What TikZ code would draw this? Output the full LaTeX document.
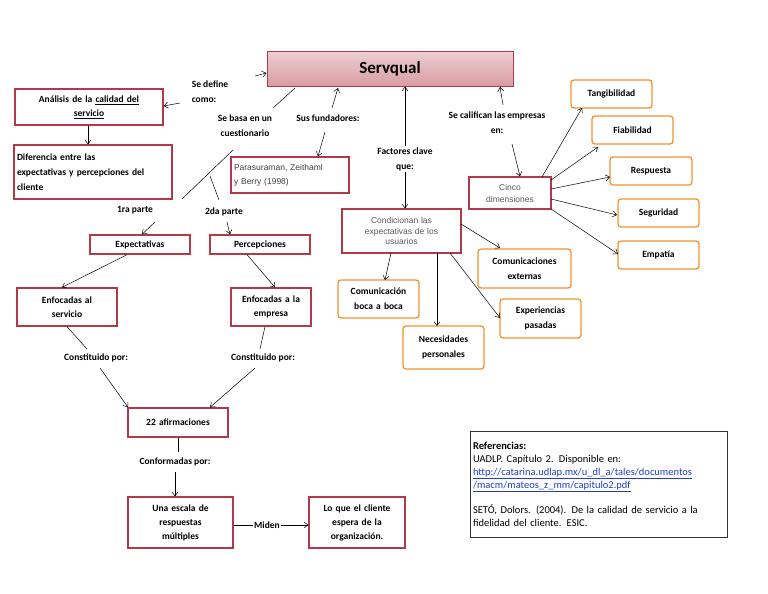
\documentclass[tikz,border=0pt]{standalone}
\usepackage{fontspec}
\setmainfont{Carlito}
\newfontfamily\arl{Liberation Sans}
\usetikzlibrary{arrows.meta}
\definecolor{rb}{HTML}{B23A48}
\definecolor{ob}{HTML}{F0922E}
\definecolor{lk}{HTML}{1F3FCC}
\begin{document}
\begin{tikzpicture}[x=1pt,y=-1pt,
 rbox/.style={draw=rb,line width=1.3pt,fill=white,align=center,font=\fontsize{9.5}{14}\selectfont\bfseries,inner sep=2pt},
 obox/.style={draw=ob,line width=1.3pt,rounded corners=3pt,fill=white,align=center,font=\fontsize{9.5}{15}\selectfont\bfseries,inner sep=2pt},
 lab/.style={align=center,font=\fontsize{9.5}{15}\selectfont\bfseries,inner sep=1pt},
 ar/.style={-{Straight Barb[length=4pt,width=6pt]},line width=0.5pt},
 ln/.style={line width=0.5pt}]
\useasboundingbox (0,0) rectangle (768,594);
\newcommand\bx[7]{\node[#1,minimum width=#4-#2,minimum height=#5-#3,text width=#4-#2-6] (#6) at ({(#2+#4)/2},{(#3+#5)/2}) {#7};}
% Servqual
\node[draw=rb,line width=1pt,top color=rb!25,bottom color=rb!50,minimum width=246,minimum height=34,font=\fontsize{17}{17}\selectfont\bfseries] (sq) at (390,69) {Servqual};
\bx{rbox}{15}{89}{163}{125}{an}{Análisis de la \underline{calidad del}\\\underline{servicio}}
\bx{rbox,align=left,font=\fontsize{9.5}{15}\selectfont\bfseries}{14}{145}{172}{199}{dif}{Diferencia entre las\\expectativas y percepciones del\\cliente}
\bx{rbox,align=left,font=\arl\fontsize{8.5}{14}\selectfont,text=black!75}{231}{157}{349}{193}{par}{Parasuraman, Zeithaml\\y Berry (1998)}
\bx{rbox,font=\arl\fontsize{8.5}{10.5}\selectfont,text=black!65}{342}{209}{461}{253}{con}{Condicionan las\\expectativas de los\\usuarios}
\bx{rbox,font=\arl\fontsize{8.5}{12}\selectfont,text=black!65}{469}{177}{551}{209}{cin}{Cinco\\dimensiones}
\bx{obox}{571}{80}{652}{108}{tan}{Tangibilidad}
\bx{obox}{592}{116}{673}{144}{fia}{Fiabilidad}
\bx{obox}{610}{157}{692}{185}{res}{Respuesta}
\bx{obox}{618}{199}{699}{227}{seg}{Seguridad}
\bx{obox}{618}{241}{699}{269}{emp}{Empatía}
\bx{obox}{478}{249}{571}{288}{cex}{Comunicaciones\\externas}
\bx{obox}{500}{299}{581}{338}{exp}{Experiencias\\pasadas}
\bx{obox}{403}{326}{484}{369}{nec}{Necesidades\\personales}
\bx{obox}{338}{280}{419}{318}{cbb}{Comunicación\\boca a boca}
\bx{rbox}{90}{235}{190}{254}{ex}{Expectativas}
\bx{rbox}{210}{235}{310}{254}{pe}{Percepciones}
\bx{rbox}{17}{288}{117}{326}{ens}{Enfocadas al\\servicio}
\bx{rbox}{231}{288}{311}{326}{ene}{Enfocadas a la\\empresa}
\bx{rbox}{128}{408}{228}{437}{af}{22 afirmaciones}
\bx{rbox}{128}{497}{233}{548}{esc}{Una escala de\\respuestas\\múltiples}
\bx{rbox}{309}{497}{405}{548}{lo}{Lo que el cliente\\espera de la\\organización.}
\node[draw=black!80,line width=1pt,minimum width=257,minimum height=106,text width=251,align=left,font=\fontsize{10.5}{13}\selectfont,inner sep=3pt] (ref) at (598.5,484) {\textbf{Referencias:}\\UADLP. Capítulo 2. Disponible en:\\\textcolor{lk}{\underline{http://catarina.udlap.mx/u\_dl\_a/tales/documentos}}\\\textcolor{lk}{\underline{/macm/mateos\_z\_mm/capitulo2.pdf}}\\[12pt]SETÓ, Dolors. (2004). De la calidad de servicio a la\\fidelidad del cliente. ESIC.};
% labels
\node[lab,align=left] (sd) at (210,92) {Se define\\como:};
\node[lab] (sb) at (245,126) {Se basa en un\\cuestionario};
\node[lab] (sf) at (328,118) {Sus fundadores:};
\node[lab] (fc) at (405,159) {Factores clave\\que:};
\node[lab] (sc) at (497,123) {Se califican las empresas\\en:};
\node[lab] (p1) at (135,210) {1ra parte};
\node[lab] (p2) at (224,212) {2da parte};
\node[lab] (c1) at (96,358) {Constituido por:};
\node[lab] (c2) at (263,358) {Constituido por:};
\node[lab] (cf) at (175,462) {Conformadas por:};
\node[lab] (mi) at (267,525) {Miden};
\coordinate (q1) at (233,150); \coordinate (q2) at (182,199);
\coordinate (q3) at (210,176); \coordinate (q4) at (219,200);
% connectors
\draw[ar] (255,76) -- (sq.west|-0,73);
\draw[ar] (180,103) -- (an.east|-0,106);
\draw[ln] (295,88) -- (273,108);
\draw[ar] (332,108) -- (338,88);
\draw[ar] (325,132) -- (par.north-|318,0);
\draw[ar] (fc.north) -- (sq.south-|fc.north);
\draw[ar] (fc.south) -- (con.north-|fc.south);
\draw[ar] (503,105) -- (500,87);
\draw[ar] (512,144) -- (cin.north-|520,0);
\draw[ln] (q1) -- (q2); \draw[ln] (q3) -- (q4);
\draw[ar] (155,222) -- (ex.north-|142,0);
\draw[ar] (227,222) -- (pe.north-|230,0);
\draw[ar] (an.south-|88,0) -- (dif.north-|88,0);
\draw[ar] (ex.south-|127,0) -- (ens.north-|62,0);
\draw[ar] (pe.south-|247,0) -- (ene.north-|275,0);
\draw[ln] (ens.south-|67,0) -- (87,349);
\draw[ln] (ene.south-|265,0) -- (260,349);
\draw[ar] (100,368) -- (af.north-|128,0);
\draw[ar] (255,368) -- (af.north-|210,0);
\draw[ln] (af.south-|178,0) -- (178,452);
\draw[ar] (175,472) -- (esc.north-|175,0);
\draw[ln] (esc.east|-0,525) -- (mi.west);
\draw[ar] (mi.east) -- (lo.west|-0,525);
\draw[ar] (542,177) -- (582,108);
\draw[ar] (551,180) -- (598,147);
\draw[ar] (551,189) -- (610,177);
\draw[ar] (551,199) -- (617,215);
\draw[ar] (551,209) -- (618,254);
\draw[ar] (461,224) -- (500,248);
\draw[ar] (450,253) -- (500,318);
\draw[ar] (437,253) -- (437,326);
\draw[ar] (391,253) -- (385,280);
\end{tikzpicture}
\end{document}
